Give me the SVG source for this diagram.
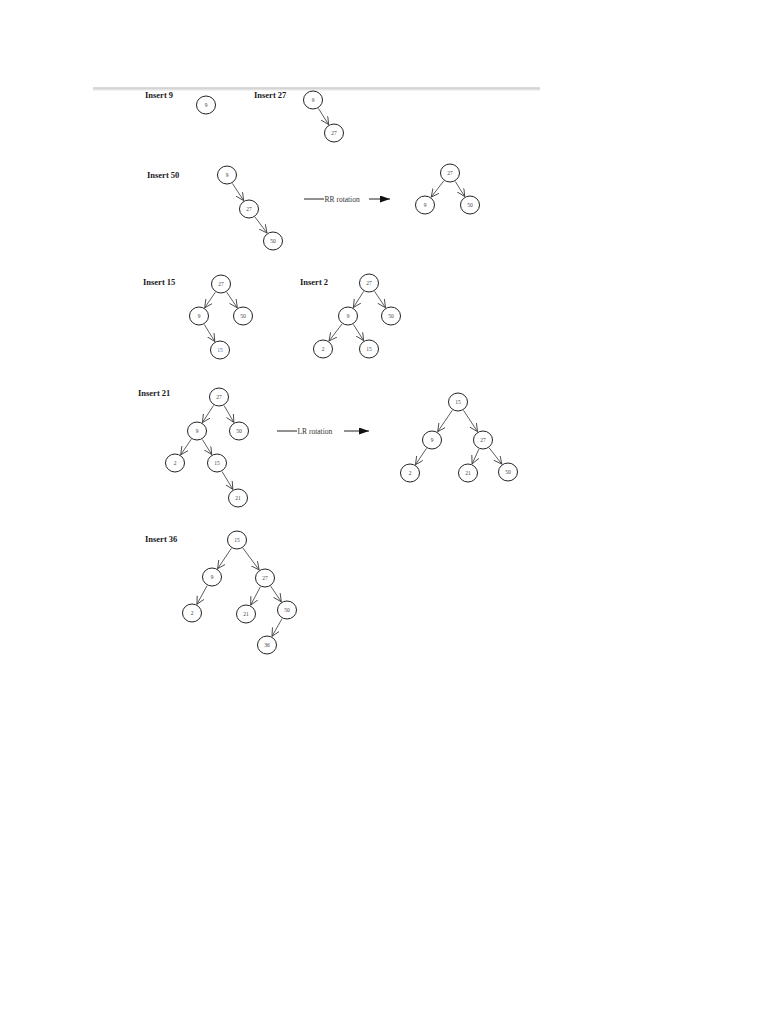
<svg xmlns="http://www.w3.org/2000/svg" width="768" height="1024" viewBox="0 0 768 1024">
<style>
.lbl{font-family:"Liberation Serif",serif;font-weight:bold;font-size:8.5px;fill:#1a1a1a}
.nd ellipse{fill:#fff;stroke:#222;stroke-width:1}
.nd text{font-family:"Liberation Serif",serif;font-size:5.5px;fill:#444;text-anchor:middle;dominant-baseline:central}
.e line{stroke:#333;stroke-width:0.8;marker-end:url(#open)}
.rot{font-family:"Liberation Serif",serif;font-size:7.5px;fill:#333}
.rl{stroke:#222;stroke-width:1}
</style>
<defs>
<marker id="open" markerUnits="userSpaceOnUse" markerWidth="10" markerHeight="10" refX="8" refY="4" orient="auto">
<path d="M0,0 L8,4 L0,8" fill="none" stroke="#333" stroke-width="0.8"/>
</marker>
<marker id="solid" markerUnits="userSpaceOnUse" markerWidth="12" markerHeight="10" refX="10" refY="3.5" orient="auto">
<path d="M0,0 L10,3.5 L0,7 Z" fill="#111"/>
</marker>
</defs>
<rect width="768" height="1024" fill="#fff"/>
<line x1="93" y1="89.5" x2="540" y2="89.5" stroke="#e4e4e4" stroke-width="2"/>
<line x1="93" y1="88" x2="540" y2="88" stroke="#b5b5b5" stroke-width="1.2"/>

<g id="labels">
<text class="lbl" x="145" y="98">Insert 9</text>
<text class="lbl" x="254" y="98">Insert 27</text>
<text class="lbl" x="147" y="178">Insert 50</text>
<text class="lbl" x="143" y="285">Insert 15</text>
<text class="lbl" x="300" y="285">Insert 2</text>
<text class="lbl" x="138" y="396">Insert 21</text>
<text class="lbl" x="145" y="542">Insert 36</text>
</g>

<g id="connectors">
<g class="e">
<line x1="318.4" y1="108.4" x2="328.6" y2="124.6"/>
<line x1="232.4" y1="183.4" x2="243.6" y2="200.6"/>
<line x1="255" y1="217" x2="267" y2="233"/>
<line x1="443.8" y1="180.9" x2="431.2" y2="197.1"/>
<line x1="455.3" y1="181.5" x2="464.7" y2="196.5"/>
<line x1="215.3" y1="292.2" x2="204.7" y2="307.8"/>
<line x1="226.7" y1="292.2" x2="237.3" y2="307.8"/>
<line x1="204.3" y1="324.5" x2="214.8" y2="341.5"/>
<line x1="363.6" y1="291.4" x2="353.4" y2="307.6"/>
<line x1="374.5" y1="291.3" x2="385.5" y2="307.7"/>
<line x1="342" y1="324" x2="329" y2="341"/>
<line x1="353.4" y1="324.4" x2="363.6" y2="340.6"/>
<line x1="213.6" y1="405.4" x2="202.4" y2="422.6"/>
<line x1="224.1" y1="405.6" x2="233.9" y2="422.4"/>
<line x1="191.3" y1="439.2" x2="180.7" y2="454.8"/>
<line x1="202.3" y1="439.5" x2="211.7" y2="454.5"/>
<line x1="222.1" y1="471.6" x2="232.9" y2="489.4"/>
<line x1="452.3" y1="410.3" x2="437.7" y2="431.7"/>
<line x1="463.5" y1="410.4" x2="477.5" y2="431.6"/>
<line x1="426.5" y1="448.3" x2="415.5" y2="464.7"/>
<line x1="478.9" y1="449.1" x2="472.1" y2="463.9"/>
<line x1="489.2" y1="447.9" x2="501.8" y2="464.1"/>
<line x1="231.4" y1="548.3" x2="217.6" y2="568.7"/>
<line x1="242.9" y1="548.1" x2="259.1" y2="569.9"/>
<line x1="207.1" y1="585.7" x2="196.9" y2="604.3"/>
<line x1="260.3" y1="586.9" x2="250.7" y2="605.1"/>
<line x1="270.7" y1="586.2" x2="281.3" y2="601.8"/>
<line x1="282" y1="618.7" x2="272" y2="636.3"/>
</g>
<line class="rl" x1="304" y1="199" x2="324" y2="199"/>
<line class="rl" x1="369" y1="199" x2="390" y2="199" marker-end="url(#solid)"/>
<line class="rl" x1="277" y1="431" x2="297" y2="431"/>
<line class="rl" x1="344" y1="431" x2="369" y2="431" marker-end="url(#solid)"/>
</g>
<text class="rot" x="324.5" y="201.5">RR rotation</text>
<text class="rot" x="297.5" y="433.5">LR rotation</text>

<g id="n-i9-9" class="nd"><ellipse cx="206" cy="105" rx="9.5" ry="9"/><text x="206" y="105">9</text></g>
<g id="n-i27-9" class="nd"><ellipse cx="313" cy="100" rx="9.5" ry="9"/><text x="313" y="100">9</text></g>
<g id="n-i27-27" class="nd"><ellipse cx="334" cy="133" rx="9.5" ry="9"/><text x="334" y="133">27</text></g>

<g id="n-i50-9" class="nd"><ellipse cx="227" cy="175" rx="9.5" ry="9"/><text x="227" y="175">9</text></g>
<g id="n-i50-27" class="nd"><ellipse cx="249" cy="209" rx="9.5" ry="9"/><text x="249" y="209">27</text></g>
<g id="n-i50-50" class="nd"><ellipse cx="273" cy="241" rx="9.5" ry="9"/><text x="273" y="241">50</text></g>

<g id="n-rr-27" class="nd"><ellipse cx="450" cy="173" rx="9.5" ry="9"/><text x="450" y="173">27</text></g>
<g id="n-rr-9" class="nd"><ellipse cx="425" cy="205" rx="9.5" ry="9"/><text x="425" y="205">9</text></g>
<g id="n-rr-50" class="nd"><ellipse cx="470" cy="205" rx="9.5" ry="9"/><text x="470" y="205">50</text></g>

<g id="n-i15-27" class="nd"><ellipse cx="221" cy="284" rx="9.5" ry="9"/><text x="221" y="284">27</text></g>
<g id="n-i15-9" class="nd"><ellipse cx="199" cy="316" rx="9.5" ry="9"/><text x="199" y="316">9</text></g>
<g id="n-i15-50" class="nd"><ellipse cx="243" cy="316" rx="9.5" ry="9"/><text x="243" y="316">50</text></g>
<g id="n-i15-15" class="nd"><ellipse cx="220" cy="350" rx="9.5" ry="9"/><text x="220" y="350" style="fill:#2a6fb0">15</text></g>

<g id="n-i2-27" class="nd"><ellipse cx="369" cy="283" rx="9.5" ry="9"/><text x="369" y="283">27</text></g>
<g id="n-i2-9" class="nd"><ellipse cx="348" cy="316" rx="9.5" ry="9"/><text x="348" y="316">9</text></g>
<g id="n-i2-50" class="nd"><ellipse cx="391" cy="316" rx="9.5" ry="9"/><text x="391" y="316">50</text></g>
<g id="n-i2-2" class="nd"><ellipse cx="323" cy="349" rx="9.5" ry="9"/><text x="323" y="349">2</text></g>
<g id="n-i2-15" class="nd"><ellipse cx="369" cy="349" rx="9.5" ry="9"/><text x="369" y="349">15</text></g>

<g id="n-i21-27" class="nd"><ellipse cx="219" cy="397" rx="9.5" ry="9"/><text x="219" y="397">27</text></g>
<g id="n-i21-9" class="nd"><ellipse cx="197" cy="431" rx="9.5" ry="9"/><text x="197" y="431">9</text></g>
<g id="n-i21-50" class="nd"><ellipse cx="239" cy="431" rx="9.5" ry="9"/><text x="239" y="431">50</text></g>
<g id="n-i21-2" class="nd"><ellipse cx="175" cy="463" rx="9.5" ry="9"/><text x="175" y="463">2</text></g>
<g id="n-i21-15" class="nd"><ellipse cx="217" cy="463" rx="9.5" ry="9"/><text x="217" y="463">15</text></g>
<g id="n-i21-21" class="nd"><ellipse cx="238" cy="498" rx="9.5" ry="9"/><text x="238" y="498">21</text></g>

<g id="n-lr-15" class="nd"><ellipse cx="458" cy="402" rx="9.5" ry="9"/><text x="458" y="402">15</text></g>
<g id="n-lr-9" class="nd"><ellipse cx="432" cy="440" rx="9.5" ry="9"/><text x="432" y="440">9</text></g>
<g id="n-lr-27" class="nd"><ellipse cx="483" cy="440" rx="9.5" ry="9"/><text x="483" y="440">27</text></g>
<g id="n-lr-2" class="nd"><ellipse cx="410" cy="473" rx="9.5" ry="9"/><text x="410" y="473">2</text></g>
<g id="n-lr-21" class="nd"><ellipse cx="468" cy="473" rx="9.5" ry="9"/><text x="468" y="473">21</text></g>
<g id="n-lr-50" class="nd"><ellipse cx="508" cy="472" rx="9.5" ry="9"/><text x="508" y="472">50</text></g>

<g id="n-i36-15" class="nd"><ellipse cx="237" cy="540" rx="9.5" ry="9"/><text x="237" y="540">15</text></g>
<g id="n-i36-9" class="nd"><ellipse cx="212" cy="577" rx="9.5" ry="9"/><text x="212" y="577">9</text></g>
<g id="n-i36-27" class="nd"><ellipse cx="265" cy="578" rx="9.5" ry="9"/><text x="265" y="578">27</text></g>
<g id="n-i36-2" class="nd"><ellipse cx="192" cy="613" rx="9.5" ry="9"/><text x="192" y="613">2</text></g>
<g id="n-i36-21" class="nd"><ellipse cx="246" cy="614" rx="9.5" ry="9"/><text x="246" y="614">21</text></g>
<g id="n-i36-50" class="nd"><ellipse cx="287" cy="610" rx="9.5" ry="9"/><text x="287" y="610">50</text></g>
<g id="n-i36-36" class="nd"><ellipse cx="267" cy="645" rx="9.5" ry="9"/><text x="267" y="645">36</text></g>
</svg>
